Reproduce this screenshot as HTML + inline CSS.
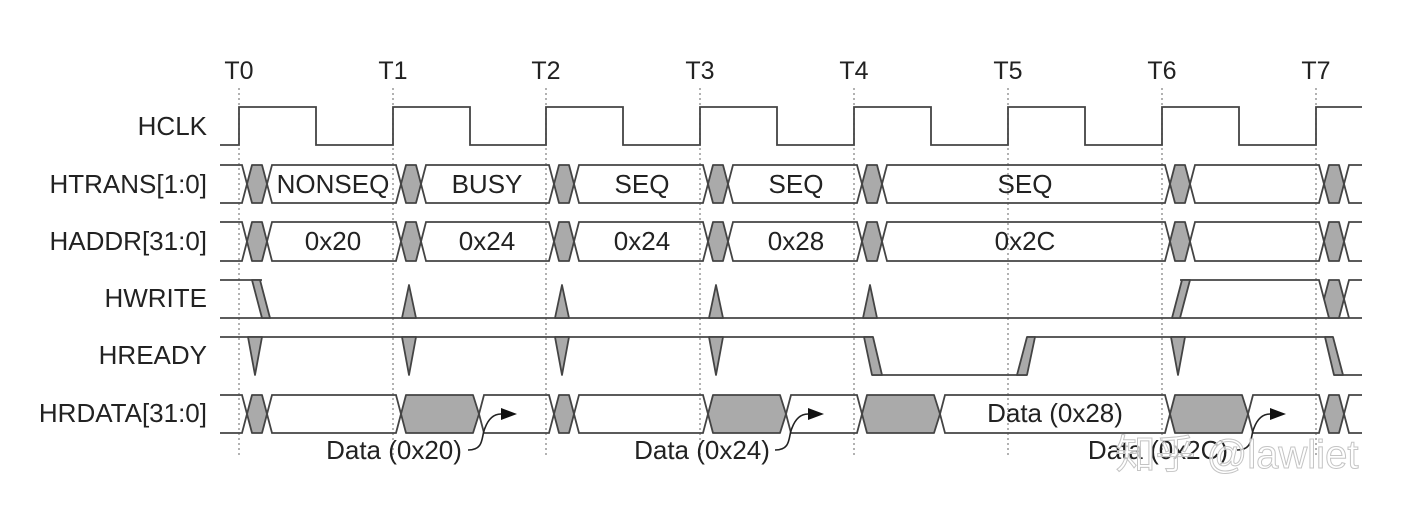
<!DOCTYPE html>
<html><head><meta charset="utf-8"><style>
html,body{margin:0;padding:0;background:#fff;}
svg{display:block;font-family:"Liberation Sans",Arial,sans-serif;}
</style></head><body>
<svg id="s" width="1411" height="512" viewBox="0 0 1411 512" xmlns="http://www.w3.org/2000/svg"></svg>
<script>
const s=document.getElementById('s');
let h='';
const T=[239,393,546,700,854,1008,1162,1316];
const L='#444',G='#aaa',W=1.8,E=1362;
function line(pts,c=L,w=W,extra=''){h+=`<polyline points="${pts.map(p=>p.join(',')).join(' ')}" fill="none" stroke="${c}" stroke-width="${w}" ${extra}/>`;}
function poly(pts,f=G){h+=`<polygon points="${pts.map(p=>p.join(',')).join(' ')}" fill="${f}" stroke="${L}" stroke-width="${W}" stroke-linejoin="round"/>`;}
function text(x,y,t,a='middle',sz=26,c='#222'){h+=`<text x="${x}" y="${y}" font-size="${sz}" fill="${c}" text-anchor="${a}">${t}</text>`;}
T.forEach((x,i)=>{h+=`<line x1="${x}" y1="88" x2="${x}" y2="455" stroke="#999" stroke-width="1.5" stroke-dasharray="2,3"/>`;text(x,79,'T'+i,'middle',25);});
[['HCLK',135],['HTRANS[1:0]',193],['HADDR[31:0]',250],['HWRITE',307],['HREADY',364],['HRDATA[31:0]',422]].forEach(([t,y])=>text(207,y,t,'end',26));
let c=[[220,145]];T.forEach((x,i)=>{c.push([x,145],[x,107]);if(i<7)c.push([x+77,107],[x+77,145]);else c.push([E,107]);});
line(c);
function bus(top,bot,cross){
  const m=(top+bot)/2;
  let starts=[220],ends=[];
  cross.forEach(x=>{ends.push(x+8);starts.push(x+28);});
  ends.push(E);
  for(let i=0;i<starts.length;i++){
    const a=starts[i],b=ends[i];
    if(i==0){line([[a,top],[b-5,top],[b,m],[b-5,bot],[a,bot]]);}
    else if(i==starts.length-1){line([[E,top],[a+5,top],[a,m],[a+5,bot],[E,bot]]);}
    else h+=`<polygon points="${a},${m} ${a+5},${top} ${b-5},${top} ${b},${m} ${b-5},${bot} ${a+5},${bot}" fill="none" stroke="${L}" stroke-width="${W}"/>`;
  }
  cross.forEach(x=>poly([[x+8,m],[x+13,top],[x+23,top],[x+28,m],[x+23,bot],[x+13,bot]]));
}
const cr=[T[0],T[1],T[2],T[3],T[4],T[6],T[7]];
bus(165,203,cr);bus(222,261,cr);
[['NONSEQ',333],['BUSY',487],['SEQ',642],['SEQ',796],['SEQ',1025]].forEach(([t,x])=>text(x,193,t));
[['0x20',333],['0x24',487],['0x24',642],['0x28',796],['0x2C',1025]].forEach(([t,x])=>text(x,250,t));
// HWRITE
line([[220,318],[E,318]]);
line([[220,280],[262,280]]);
poly([[252,280],[260,280],[270,318],[262,318]]);
[1,2,3,4].forEach(i=>poly([[T[i]+9,318],[T[i]+16,285],[T[i]+23,318]]));
line([[1180,280],[T[7]+3,280],[T[7]+8,299]]);
poly([[T[6]+10,318],[T[6]+18,318],[T[6]+28,280],[T[6]+20,280]]);
poly([[T[7]+8,299],[T[7]+13,280],[T[7]+23,280],[T[7]+28,299],[T[7]+23,318],[T[7]+13,318]]);
line([[E,280],[T[7]+33,280],[T[7]+28,299],[T[7]+33,318]]);
// HREADY
line([[220,337],[873,337]]);line([[872,375],[1027,375]]);line([[1027,337],[1333,337]]);line([[1334,375],[E,375]]);
poly([[864,337],[873,337],[882,375],[872,375]]);
poly([[1017,375],[1027,375],[1035,337],[1027,337]]);
poly([[1325,337],[1333,337],[1343,375],[1334,375]]);
[0,1,2,3,6].forEach(i=>poly([[T[i]+9,337],[T[i]+16,375],[T[i]+23,337]]));
// HRDATA
(function(){const top=395,bot=433,m=414;
 line([[220,top],[T[0]+3,top],[T[0]+8,m],[T[0]+3,bot],[220,bot]]);
 poly([[T[0]+8,m],[T[0]+13,top],[T[0]+23,top],[T[0]+28,m],[T[0]+23,bot],[T[0]+13,bot]]);
 function white(a,b){h+=`<polygon points="${a},${m} ${a+5},${top} ${b-5},${top} ${b},${m} ${b-5},${bot} ${a+5},${bot}" fill="none" stroke="${L}" stroke-width="${W}"/>`;}
 function grayL(x){poly([[x+8,m],[x+13,top],[x+80,top],[x+86,m],[x+80,bot],[x+13,bot]]);}
 white(T[0]+28,T[1]+8);grayL(T[1]);white(T[1]+86,T[2]+8);
 poly([[T[2]+8,m],[T[2]+13,top],[T[2]+23,top],[T[2]+28,m],[T[2]+23,bot],[T[2]+13,bot]]);
 white(T[2]+28,T[3]+8);grayL(T[3]);white(T[3]+86,T[4]+8);grayL(T[4]);white(T[4]+86,T[6]+8);grayL(T[6]);white(T[6]+86,T[7]+8);
 poly([[T[7]+8,m],[T[7]+13,top],[T[7]+23,top],[T[7]+28,m],[T[7]+23,bot],[T[7]+13,bot]]);
 line([[E,top],[T[7]+33,top],[T[7]+28,m],[T[7]+33,bot],[E,bot]]);
 text(1055,422,'Data (0x28)');
 [T[1],T[3],T[6]].forEach(x=>{
   h+=`<path d="M${x+75},${450} C${x+92},${450} ${x+88},${436} ${x+92},${428} C${x+95},${420} ${x+100},${414} ${x+108},${414}" fill="none" stroke="#222" stroke-width="1.6"/>`;
   h+=`<polygon points="${x+108},${408} ${x+124},${414} ${x+108},${420}" fill="#111"/>`;
 });
})();
text(394,459,'Data (0x20)');text(702,459,'Data (0x24)');text(1158,459,'Data (0x2C)');
h+=`<text x="1237" y="468" font-size="40" fill="#fff" fill-opacity="0.7" stroke="#c4c4c4" stroke-width="1" text-anchor="middle" font-family="Liberation Sans,Noto Sans CJK SC,sans-serif">知乎 @lawliet</text>`;
s.innerHTML=h;
</script>
</body></html>
